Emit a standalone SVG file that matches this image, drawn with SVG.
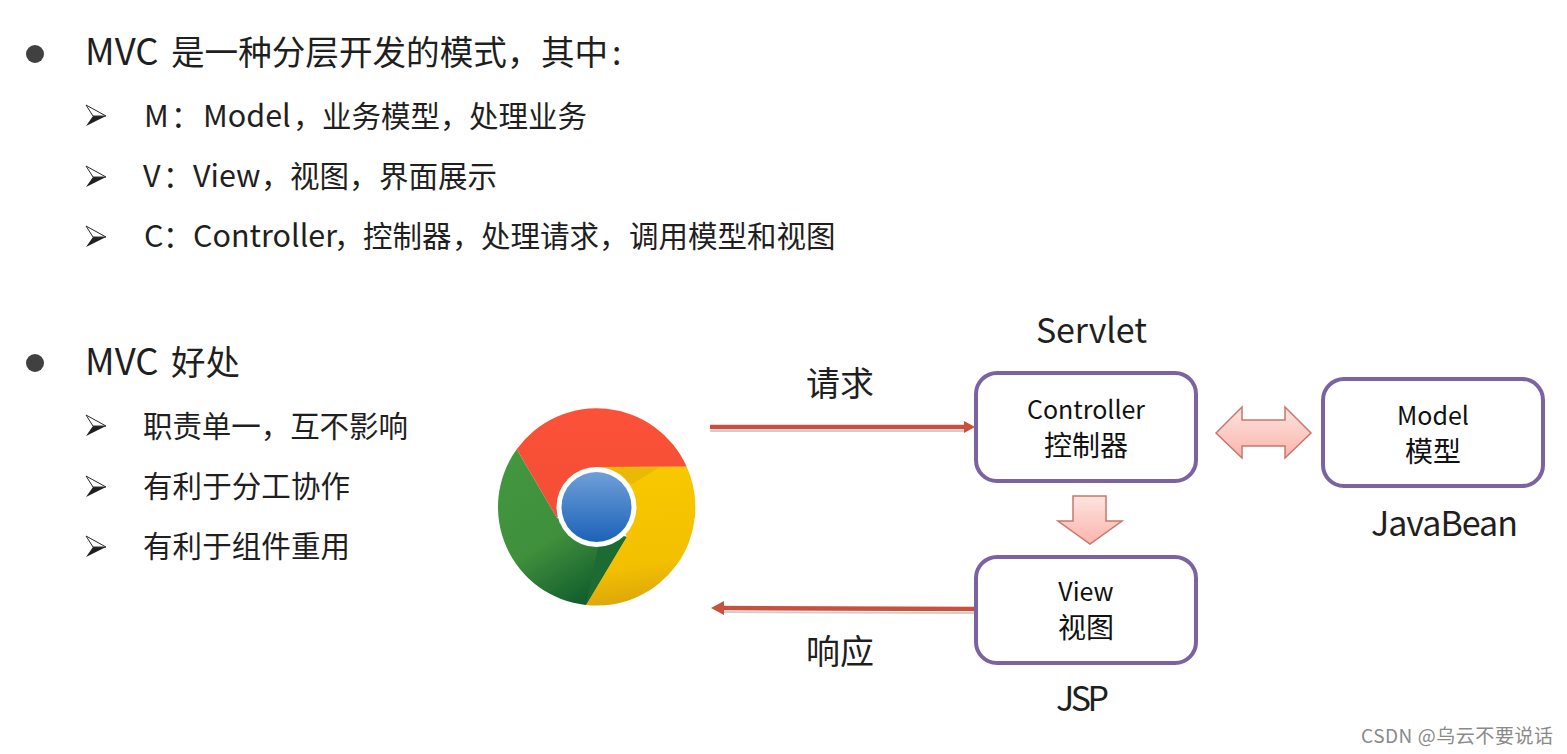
<svg xmlns="http://www.w3.org/2000/svg" width="1567" height="754" viewBox="0 0 1567 754">
<style>
text{font-family:"Noto Sans CJK SC","Noto Sans",sans-serif;fill:#1f1f1f}
.h{font-size:33.6px}
.hl{font-size:36.5px}
.s{font-size:29.5px}
.sl{font-size:30.5px}
.l{font-size:34px}
.n{font-size:25px;text-anchor:middle;fill:#111}
.nc{font-size:28px}
.box{fill:#fff;stroke:#7b62a3;stroke-width:4}
.big{fill:url(#pink);stroke:#c9766c;stroke-width:1.5}
.line{stroke:#c9503f;stroke-width:4.5;fill:none}
.shade{stroke:#b9b9b9;stroke-width:2;fill:none;opacity:.7}
.head{fill:#c9503f}
.dot{fill:#404040}
.tip{fill:#1f1f1f}
</style>
<defs>
<linearGradient id="pink" x1="0" y1="0" x2="0" y2="1"><stop offset="0" stop-color="#fde3df"/><stop offset="1" stop-color="#fab5ac"/></linearGradient>
<linearGradient id="red" x1="0" y1="0" x2="0" y2="1"><stop offset="0" stop-color="#fb5138"/><stop offset="1" stop-color="#f44e36"/></linearGradient>
<linearGradient id="green" x1="0.2" y1="0" x2="0.7" y2="1"><stop offset="0" stop-color="#43973f"/><stop offset="0.55" stop-color="#3f8f3c"/><stop offset="1" stop-color="#0f5a2c"/></linearGradient>
<linearGradient id="yellow" x1="0.5" y1="0" x2="0.6" y2="1"><stop offset="0" stop-color="#f8c800"/><stop offset="0.7" stop-color="#f3c000"/><stop offset="1" stop-color="#d9a40c"/></linearGradient>
<linearGradient id="blue" x1="0" y1="0" x2="0" y2="1"><stop offset="0" stop-color="#6f9fd8"/><stop offset="1" stop-color="#1c62b8"/></linearGradient>
<symbol id="tick" overflow="visible"><path class="tip" d="M0 0L20 11L0 21L7 11Z"/><path d="M0 0L20 11L7 11Z" fill="#fff" stroke="#333" stroke-width="1"/></symbol>
</defs>
<rect width="1567" height="754" fill="#fff"/>

<g id="list-top">
<circle class="dot" cx="35" cy="54" r="9"/>
<text class="h" y="65"><tspan class="hl" x="85">MVC</tspan><tspan x="171">是一种分层开发的模式</tspan><tspan x="507">，</tspan><tspan x="541">其中</tspan><tspan x="612">:</tspan></text>
<use href="#tick" x="86" y="105"/>
<text class="s" y="127"><tspan class="sl" x="144">M</tspan><tspan x="171">：</tspan><tspan class="sl" x="203">Model</tspan><tspan x="293">，</tspan><tspan x="322">业务模型</tspan><tspan x="440">，</tspan><tspan x="469">处理业务</tspan></text>
<use href="#tick" x="86" y="166"/>
<text class="s" y="187"><tspan class="sl" x="143">V</tspan><tspan x="163">：</tspan><tspan class="sl" x="193">View</tspan><tspan x="261">，</tspan><tspan x="290">视图</tspan><tspan x="349">，</tspan><tspan x="379">界面展示</tspan></text>
<use href="#tick" x="86" y="226"/>
<text class="s" y="247"><tspan class="sl" x="144">C</tspan><tspan x="163">：</tspan><tspan class="sl" x="193">Controller</tspan><tspan x="334">，</tspan><tspan x="363">控制器</tspan><tspan x="452">，</tspan><tspan x="481">处理请求</tspan><tspan x="599">，</tspan><tspan x="629">调用模型和视图</tspan></text>
</g>

<g id="list-bottom">
<circle class="dot" cx="35" cy="363" r="9"/>
<text class="h" y="375"><tspan class="hl" x="85">MVC</tspan><tspan x="171" style="font-size:34.5px">好处</tspan></text>
<use href="#tick" x="86" y="415"/>
<text class="s" x="143" y="437" textLength="265">职责单一，互不影响</text>
<use href="#tick" x="86" y="476"/>
<text class="s" x="143" y="497" textLength="207">有利于分工协作</text>
<use href="#tick" x="86" y="536"/>
<text class="s" x="143" y="557" textLength="207">有利于组件重用</text>
</g>

<g id="browser">
<path fill="url(#red)" d="M686.7 466.7A98.5 98.5 0 0 0 516.7 449.3L557 518L596 467Z"/>
<path fill="url(#green)" d="M516.7 449.3A98.5 98.5 0 0 0 586 605L626.7 536.7L557 518Z"/>
<path fill="url(#yellow)" d="M686.7 466.7A98.5 98.5 0 0 1 586 605L626.7 536.7L596 467Z"/>
<path fill="#ebb905" d="M600 467H660L632 484Z"/>
<path fill="#1c6b33" d="M626.7 536.7L586 605L598 548Z"/>
<circle cx="596.5" cy="507" r="40" fill="#fff"/>
<circle cx="596.5" cy="507" r="35" fill="url(#blue)"/>
</g>

<g id="connectors">
<path class="shade" d="M710 431H966"/>
<path class="line" d="M710 427H966"/>
<path class="head" d="M975 427L964 421V433Z"/>
<text class="l" x="840" y="396" text-anchor="middle">请求</text>
<path class="shade" d="M975 613L720 612"/>
<path class="line" d="M975 609L720 608"/>
<path class="head" d="M711 608L724 601V615Z"/>
<text class="l" x="840" y="664" text-anchor="middle">响应</text>
<path class="big" d="M1216 433L1242 407V420H1285V407L1311 433L1285 458V446H1242V458Z"/>
<path class="big" d="M1073 496H1106V521H1122L1090 544L1058 521H1073Z"/>
</g>

<g id="controller">
<text class="l" x="1036" y="343" textLength="111">Servlet</text>
<rect class="box" x="976" y="373" width="220" height="108" rx="21"/>
<text class="n" x="1086" y="419">Controller</text>
<text class="n nc" x="1086" y="456">控制器</text>
</g>

<g id="model">
<rect class="box" x="1323" y="379" width="220" height="107" rx="21"/>
<text class="n" x="1433" y="425">Model</text>
<text class="n nc" x="1433" y="462">模型</text>
<text class="l" x="1371" y="536" textLength="147">JavaBean</text>
</g>

<g id="view">
<rect class="box" x="976" y="557" width="220" height="106" rx="21"/>
<text class="n" x="1086" y="601">View</text>
<text class="n nc" x="1086" y="638">视图</text>
<text class="l" x="1056" y="711" textLength="53">JSP</text>
</g>

<text id="watermark" x="1361" y="743" font-size="19" style="fill:#8a8a8a" textLength="192">CSDN @乌云不要说话</text>
</svg>
